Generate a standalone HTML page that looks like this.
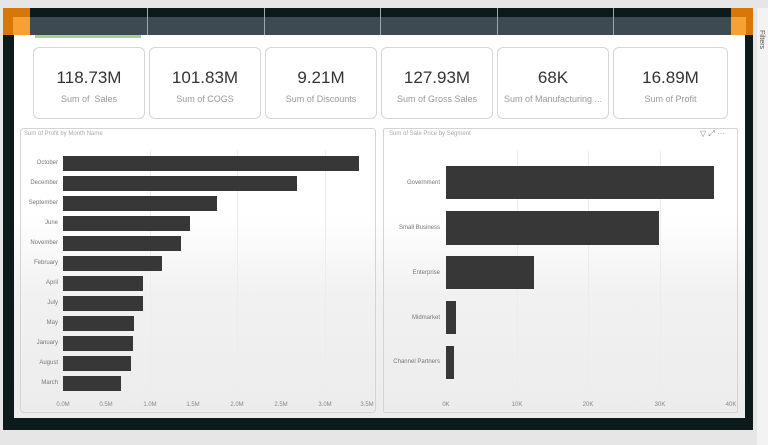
<!DOCTYPE html>
<html><head><style>
*{margin:0;padding:0;box-sizing:border-box}
body{width:768px;height:445px;background:#e6e6e6;position:relative;overflow:hidden;font-family:"Liberation Sans",sans-serif}
.a{position:absolute}
.card{position:absolute;top:47px;height:72px;background:#fff;border:1px solid #d6d6d6;border-radius:6px;text-align:center}
.card .v{margin-top:20px;font-size:17px;color:#333}
.card .l{margin-top:6px;font-size:9px;color:#999}
.bar{position:absolute;background:#373737}
.ml{position:absolute;font-size:6px;color:#777;text-align:right}
.tk{position:absolute;font-size:6px;color:#888;width:30px;text-align:center}
.gl{position:absolute;width:1px;background:#ececec}
</style></head><body>
<div class="a" style="left:3px;top:8px;width:750px;height:422px;background:#0c1a1c"></div>
<div class="a" style="left:14px;top:35px;width:731px;height:383px;background:linear-gradient(#fff 0,#fff 180px,#f1f1f1 260px,#ececec)"></div>
<div class="a" style="left:10px;top:17px;width:735px;height:18px;background:#3e4a51"></div>
<div class="a" style="left:3px;top:8px;width:27px;height:27px;background:#d8760a"></div>
<div class="a" style="left:13px;top:17px;width:17px;height:18px;background:#f7a033"></div>
<div class="a" style="left:731px;top:8px;width:22px;height:27px;background:#d8760a"></div>
<div class="a" style="left:731px;top:17px;width:15px;height:18px;background:#f7a033"></div>
<div class="a" style="left:147px;top:8px;width:1px;height:27px;background:#9aa"></div>
<div class="a" style="left:264px;top:8px;width:1px;height:27px;background:#9aa"></div>
<div class="a" style="left:380px;top:8px;width:1px;height:27px;background:#9aa"></div>
<div class="a" style="left:497px;top:8px;width:1px;height:27px;background:#9aa"></div>
<div class="a" style="left:613px;top:8px;width:1px;height:27px;background:#9aa"></div>
<div class="a" style="left:35px;top:35px;width:106px;height:3px;background:#a9d18e"></div>
<div class="a" style="left:757px;top:8px;width:11px;height:437px;background:#f3f3f3"></div>
<div class="a" style="left:758px;top:30px;font-size:7px;color:#555;writing-mode:vertical-rl">Filters</div>
<div class="card" style="left:33px;width:112px"><div class="v">118.73M</div><div class="l">Sum of&nbsp; Sales</div></div>
<div class="card" style="left:149px;width:112px"><div class="v">101.83M</div><div class="l">Sum of COGS</div></div>
<div class="card" style="left:265px;width:112px"><div class="v">9.21M</div><div class="l">Sum of Discounts</div></div>
<div class="card" style="left:381px;width:112px"><div class="v">127.93M</div><div class="l">Sum of Gross Sales</div></div>
<div class="card" style="left:497px;width:112px"><div class="v">68K</div><div class="l">Sum of Manufacturing ...</div></div>
<div class="card" style="left:613px;width:115px"><div class="v">16.89M</div><div class="l">Sum of Profit</div></div>

<div class="a" style="left:20px;top:128px;width:356px;height:285px;border:1px solid #d4d4d4;border-radius:4px"></div>
<div class="a" style="left:24px;top:131px;font-size:6px;color:#aaa">Sum of Profit by Month Name</div>
<div class="a" style="left:383px;top:128px;width:355px;height:285px;border:1px solid #d4d4d4;border-radius:2px"></div>
<div class="a" style="left:389px;top:131px;font-size:6px;color:#aaa">Sum of Sale Price by Segment</div>
<div class="a" style="left:700px;top:129px;font-size:8px;color:#888">▽ ⤢ ···</div>

<div class="gl" style="left:150px;top:150px;height:245px"></div><div class="gl" style="left:237px;top:150px;height:245px"></div><div class="gl" style="left:325px;top:150px;height:245px"></div>
<div class="gl" style="left:517px;top:150px;height:245px"></div><div class="gl" style="left:588px;top:150px;height:245px"></div><div class="gl" style="left:660px;top:150px;height:245px"></div>

<div class="ml" style="left:20px;width:38px;top:160px">October</div><div class="bar" style="left:63px;top:156px;width:296px;height:15px"></div>
<div class="ml" style="left:20px;width:38px;top:180px">December</div><div class="bar" style="left:63px;top:176px;width:234px;height:15px"></div>
<div class="ml" style="left:20px;width:38px;top:200px">September</div><div class="bar" style="left:63px;top:196px;width:154px;height:15px"></div>
<div class="ml" style="left:20px;width:38px;top:220px">June</div><div class="bar" style="left:63px;top:216px;width:127px;height:15px"></div>
<div class="ml" style="left:20px;width:38px;top:240px">November</div><div class="bar" style="left:63px;top:236px;width:118px;height:15px"></div>
<div class="ml" style="left:20px;width:38px;top:260px">February</div><div class="bar" style="left:63px;top:256px;width:99px;height:15px"></div>
<div class="ml" style="left:20px;width:38px;top:280px">April</div><div class="bar" style="left:63px;top:276px;width:80px;height:15px"></div>
<div class="ml" style="left:20px;width:38px;top:300px">July</div><div class="bar" style="left:63px;top:296px;width:80px;height:15px"></div>
<div class="ml" style="left:20px;width:38px;top:320px">May</div><div class="bar" style="left:63px;top:316px;width:71px;height:15px"></div>
<div class="ml" style="left:20px;width:38px;top:340px">January</div><div class="bar" style="left:63px;top:336px;width:70px;height:15px"></div>
<div class="ml" style="left:20px;width:38px;top:360px">August</div><div class="bar" style="left:63px;top:356px;width:68px;height:15px"></div>
<div class="ml" style="left:20px;width:38px;top:380px">March</div><div class="bar" style="left:63px;top:376px;width:58px;height:15px"></div>
<div class="tk" style="left:48px;top:402px">0.0M</div><div class="tk" style="left:91px;top:402px">0.5M</div><div class="tk" style="left:135px;top:402px">1.0M</div><div class="tk" style="left:178px;top:402px">1.5M</div><div class="tk" style="left:222px;top:402px">2.0M</div><div class="tk" style="left:266px;top:402px">2.5M</div><div class="tk" style="left:310px;top:402px">3.0M</div><div class="tk" style="left:352px;top:402px">3.5M</div>

<div class="ml" style="left:385px;width:55px;top:180px">Government</div><div class="bar" style="left:446px;top:166px;width:268px;height:33px"></div>
<div class="ml" style="left:385px;width:55px;top:225px">Small Business</div><div class="bar" style="left:446px;top:211px;width:213px;height:34px"></div>
<div class="ml" style="left:385px;width:55px;top:270px">Enterprise</div><div class="bar" style="left:446px;top:256px;width:88px;height:33px"></div>
<div class="ml" style="left:385px;width:55px;top:315px">Midmarket</div><div class="bar" style="left:446px;top:301px;width:10px;height:33px"></div>
<div class="ml" style="left:385px;width:55px;top:359px">Channel Partners</div><div class="bar" style="left:446px;top:346px;width:8px;height:33px"></div>
<div class="tk" style="left:431px;top:402px">0K</div><div class="tk" style="left:502px;top:402px">10K</div><div class="tk" style="left:573px;top:402px">20K</div><div class="tk" style="left:645px;top:402px">30K</div><div class="tk" style="left:716px;top:402px">40K</div>
</body></html>
